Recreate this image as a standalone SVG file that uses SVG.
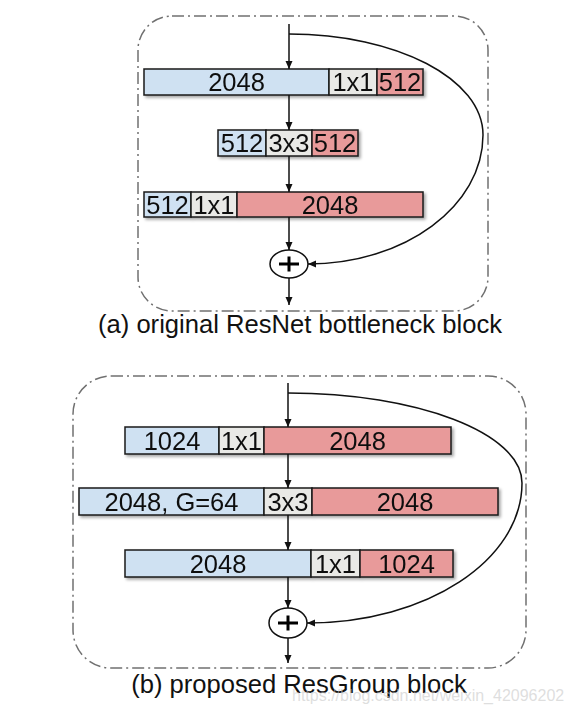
<svg xmlns="http://www.w3.org/2000/svg" width="572" height="712" viewBox="0 0 572 712">
<style>
.frame{fill:none;stroke:#707070;stroke-width:1.5;stroke-dasharray:12 4 2 4}
.b{fill:#cfe1f2;stroke:#1a1a1a;stroke-width:1.5}
.g{fill:#e9e9e6;stroke:#1a1a1a;stroke-width:1.5}
.r{fill:#e89a9a;stroke:#1a1a1a;stroke-width:1.5}
.t{font-family:"Liberation Sans",Arial,sans-serif;font-size:25.5px;fill:#111;text-anchor:middle}
.cap{font-family:"Liberation Sans",Arial,sans-serif;font-size:25.6px;fill:#111;text-anchor:middle}
.wm{font-family:"Liberation Sans",Arial,sans-serif;font-size:16px;fill:#c8c8c8;fill-opacity:0.6}
.ln{fill:none;stroke:#111;stroke-width:1.5}
.sum{fill:#fff;stroke:#111;stroke-width:1.5}
.plus{stroke:#000;stroke-width:3;fill:none}
</style>
<defs>
<marker id="ah" markerWidth="8" markerHeight="8" refX="8" refY="4" orient="auto" markerUnits="userSpaceOnUse">
<path d="M0,0.5 L8,4 L0,7.5 Z" fill="#111"/>
</marker>
<filter id="sh" x="-5%" y="-20%" width="110%" height="150%">
<feDropShadow dx="2" dy="2" stdDeviation="1.5" flood-color="#000" flood-opacity="0.35"/>
</filter>
</defs>
<rect width="572" height="712" fill="#fff"/>

<g id="panel-a">
<rect class="frame" x="138" y="16" width="350" height="295" rx="34"/>
</g>
<g id="panel-b">
<rect class="frame" x="73" y="376" width="453" height="292" rx="38"/>
</g>

<g id="a-row1" filter="url(#sh)">
<rect class="b" x="144" y="69" width="185" height="26"/>
<rect class="g" x="329" y="69" width="48" height="26"/>
<rect class="r" x="377" y="69" width="46" height="26"/>
<text class="t" x="236.5" y="91">2048</text>
<text class="t" x="353" y="91">1x1</text>
<text class="t" x="400" y="91">512</text>
</g>
<g id="a-row2" filter="url(#sh)">
<rect class="b" x="218" y="130" width="48" height="26"/>
<rect class="g" x="266" y="130" width="46" height="26"/>
<rect class="r" x="312" y="130" width="46" height="26"/>
<text class="t" x="242" y="152">512</text>
<text class="t" x="289" y="152">3x3</text>
<text class="t" x="335" y="152">512</text>
</g>
<g id="a-row3" filter="url(#sh)">
<rect class="b" x="144" y="192" width="47" height="25"/>
<rect class="g" x="191" y="192" width="46" height="25"/>
<rect class="r" x="237" y="192" width="186" height="25"/>
<text class="t" x="167.5" y="213.5">512</text>
<text class="t" x="214" y="213.5">1x1</text>
<text class="t" x="330" y="213.5">2048</text>
</g>
<g id="a-sum">
<ellipse class="sum" cx="289" cy="264" rx="19" ry="14"/>
<path class="plus" d="M279,264 H299 M289,256.5 V271.5"/>
</g>

<g id="b-row1" filter="url(#sh)">
<rect class="b" x="125" y="427" width="94" height="27"/>
<rect class="g" x="219" y="427" width="45" height="27"/>
<rect class="r" x="264" y="427" width="187" height="27"/>
<text class="t" x="172" y="449.5">1024</text>
<text class="t" x="241.5" y="449.5">1x1</text>
<text class="t" x="357.5" y="449.5">2048</text>
</g>
<g id="b-row2" filter="url(#sh)">
<rect class="b" x="79" y="488" width="185" height="27"/>
<rect class="g" x="264" y="488" width="48" height="27"/>
<rect class="r" x="312" y="488" width="186" height="27"/>
<text class="t" x="171.5" y="510.5">2048, G=64</text>
<text class="t" x="288" y="510.5">3x3</text>
<text class="t" x="405" y="510.5">2048</text>
</g>
<g id="b-row3" filter="url(#sh)">
<rect class="b" x="125" y="550" width="186" height="27"/>
<rect class="g" x="311" y="550" width="49" height="27"/>
<rect class="r" x="360" y="550" width="93" height="27"/>
<text class="t" x="218" y="572.5">2048</text>
<text class="t" x="335.5" y="572.5">1x1</text>
<text class="t" x="406.5" y="572.5">1024</text>
</g>
<g id="b-sum">
<ellipse class="sum" cx="288" cy="623" rx="19" ry="15"/>
<path class="plus" d="M278,623 H298 M288,615.5 V630.5"/>
</g>

<g id="connectors">
<path class="ln" d="M289,24 V69" marker-end="url(#ah)"/>
<path class="ln" d="M289,95 V130" marker-end="url(#ah)"/>
<path class="ln" d="M289,156 V192" marker-end="url(#ah)"/>
<path class="ln" d="M289,217 V250" marker-end="url(#ah)"/>
<path class="ln" d="M289,278 V305" marker-end="url(#ah)"/>
<path class="ln" d="M289,34 C397,34 483,79 483,135 C483,206 405,264 308,264" marker-end="url(#ah)"/>

<path class="ln" d="M288,383 V427" marker-end="url(#ah)"/>
<path class="ln" d="M288,454 V488" marker-end="url(#ah)"/>
<path class="ln" d="M288,515 V550" marker-end="url(#ah)"/>
<path class="ln" d="M288,577 V608" marker-end="url(#ah)"/>
<path class="ln" d="M288,638 V663" marker-end="url(#ah)"/>
<path class="ln" d="M288,393 C417,393 522,433 522,483 C522,560 427,623 307,623" marker-end="url(#ah)"/>
</g>

<text class="cap" x="300" y="333">(a) original ResNet bottleneck block</text>
<text class="cap" x="299" y="693">(b) proposed ResGroup block</text>
<text class="wm" x="292" y="701">https://blog.csdn.net/weixin_42096202</text>
</svg>
